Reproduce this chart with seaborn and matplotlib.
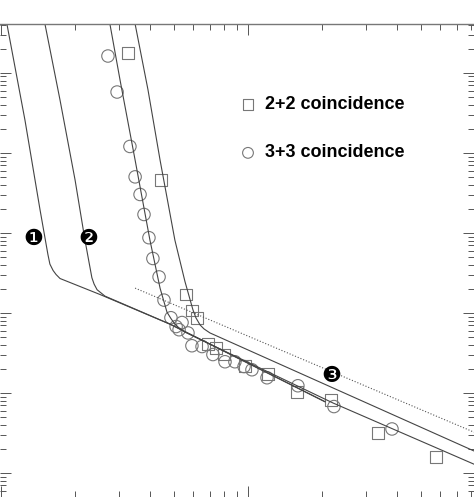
import numpy as np
import pandas as pd
import matplotlib.pyplot as plt
import seaborn as sns

sns.set_theme(style="white")
plt.rcParams["font.family"] = ["Liberation Sans", "DejaVu Sans"]
plt.rcParams["text.color"] = "black"

# data, stored as log10 values
circ_lx = [0.433, 0.470, 0.522, 0.543, 0.563, 0.579, 0.599, 0.615, 0.640, 0.660, 0.688, 0.709, 0.733,
           0.721, 0.757, 0.773, 0.814, 0.858, 0.907, 0.947, 0.984, 1.016, 1.077, 1.202, 1.348, 1.583]
circ_ly = [5.21, 4.76, 4.08, 3.70, 3.48, 3.23, 2.94, 2.68, 2.45, 2.16, 1.94, 1.83, 1.88,
           1.79, 1.75, 1.59, 1.58, 1.48, 1.39, 1.39, 1.33, 1.29, 1.19, 1.09, 0.83, 0.55]
sq_lx = [0.514, 0.648, 0.749, 0.773, 0.794, 0.838, 0.870, 0.903, 0.988, 1.081, 1.198, 1.336, 1.526, 1.761]
sq_ly = [5.25, 3.66, 2.23, 2.03, 1.94, 1.61, 1.56, 1.48, 1.34, 1.24, 1.01, 0.91, 0.50, 0.20]

curve1_lx = [0.024, 0.097, 0.158, 0.190, 0.198, 0.211, 0.223, 0.239, 0.320, 0.401, 0.684, 1.312]
curve1_ly = [5.61, 4.41, 3.29, 2.73, 2.61, 2.53, 2.48, 2.43, 2.33, 2.23, 1.86, 0.89]
curve2_lx = [0.178, 0.239, 0.300, 0.340, 0.356, 0.368, 0.377, 0.389, 0.401, 0.421, 0.684, 1.312]
curve2_ly = [5.61, 4.66, 3.66, 2.91, 2.64, 2.44, 2.36, 2.29, 2.26, 2.21, 1.86, 0.89]
curve3_lx = [0.441, 0.482, 0.543, 0.603, 0.644, 0.672, 0.688, 0.704, 0.721, 0.745, 1.344, 1.915]
curve3_ly = [5.61, 4.91, 3.91, 2.91, 2.31, 2.01, 1.93, 1.86, 1.81, 1.76, 0.875, 0.11]
curve4_lx = [0.543, 0.595, 0.644, 0.704, 0.745, 0.777, 0.789, 0.806, 0.822, 0.846, 1.915]
curve4_ly = [5.61, 4.79, 3.91, 2.91, 2.39, 2.04, 1.94, 1.85, 1.80, 1.75, 0.275]
dotted_lx = [0.543, 1.915]
dotted_ly = [2.31, 0.51]

labels = ["\u2776", "\u2777", "\u2778"]
label_lx = [0.130, 0.352, 1.336]
label_ly = [2.93, 2.93, 1.21]

fig = plt.figure(figsize=(4.74, 4.97), dpi=100)
ax = fig.add_axes([0, 0, 1, 473 / 497])

for lx, ly in [(curve1_lx, curve1_ly), (curve2_lx, curve2_ly),
               (curve3_lx, curve3_ly), (curve4_lx, curve4_ly)]:
    d = pd.DataFrame({"x": 10 ** np.array(lx), "y": 10 ** np.array(ly)})
    sns.lineplot(data=d, x="x", y="y", ax=ax, sort=False, estimator=None,
                 color="#444444", lw=0.8)
ax.plot(10 ** np.array(dotted_lx), 10 ** np.array(dotted_ly), ls=":", color="#555555", lw=0.8)

sns.scatterplot(x=10 ** np.array(sq_lx), y=10 ** np.array(sq_ly), ax=ax, marker="s", s=70,
                facecolor="none", edgecolor="#777777", linewidth=0.8)
sns.scatterplot(x=10 ** np.array(circ_lx), y=10 ** np.array(circ_ly), ax=ax, marker="o", s=80,
                facecolor="none", edgecolor="#777777", linewidth=0.8)

for t, lx, ly in zip(labels, label_lx, label_ly):
    ax.text(10 ** lx, 10 ** ly, t, fontsize=16, ha="center", va="center",
            family=["DejaVu Sans"], color="black")

# legend drawn by hand
ax.scatter([10 ** 1.0], [10 ** 4.6], marker="s", s=60, facecolor="none", edgecolor="#777777", lw=0.8)
ax.scatter([10 ** 1.0], [10 ** 4.0], marker="o", s=60, facecolor="none", edgecolor="#777777", lw=0.8)
ax.text(10 ** 1.07, 10 ** 4.6, "2+2 coincidence", fontsize=13, fontweight="bold", va="center")
ax.text(10 ** 1.07, 10 ** 4.0, "3+3 coincidence", fontsize=13, fontweight="bold", va="center")

ax.set_xscale("log")
ax.set_yscale("log")
ax.set_xlim(10 ** -0.004, 10 ** 1.915)
ax.set_ylim(10 ** -0.30, 10 ** 5.61)
ax.set_xlabel("")
ax.set_ylabel("")
ax.tick_params(which="both", direction="in", top=True, right=True, left=True, bottom=True,
               labelbottom=False, labelleft=False, color="#555555", width=0.7)
ax.tick_params(which="major", length=8)
ax.tick_params(which="minor", length=4)
for side in ["left", "bottom", "right"]:
    ax.spines[side].set_visible(False)
ax.spines["top"].set_color("#777777")
ax.spines["top"].set_linewidth(1.0)

fig.savefig("out.png", dpi=100)
